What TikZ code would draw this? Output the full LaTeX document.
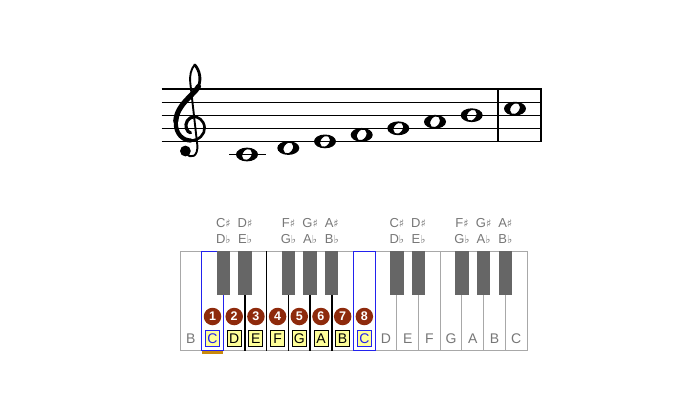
\documentclass[tikz,border=0pt]{standalone}
\usepackage{fontspec}
\setmainfont{Liberation Sans}
\newfontfamily\symfont{DejaVu Sans}
\definecolor{keygray}{HTML}{A8A8A8}
\definecolor{bkgray}{HTML}{666666}
\definecolor{labgray}{HTML}{777777}
\definecolor{circ}{HTML}{8E2A0C}
\definecolor{ylw}{HTML}{FFFF99}
\definecolor{blueC}{HTML}{2222EE}
\definecolor{orng}{HTML}{C98A0E}
\newcommand\mysharp{{\symfont\fontsize{11}{11}\selectfont ♯}}
\newcommand\myflat{{\symfont\fontsize{11}{11}\selectfont ♭}}
\newcommand\wnote[2]{%
  \fill[even odd rule] (#1,#2) ellipse [x radius=11, y radius=6.9]
    {[shift={(#1,#2)}, rotate=-35] (0,0) ellipse [x radius=4.3, y radius=5.9]};}
\begin{document}
\begin{tikzpicture}[x=1pt,y=-1pt,
  wkey/.style={draw=keygray, line width=1pt, fill=white, minimum width=21.6875pt, minimum height=99.5pt, inner sep=0, outer sep=0},
  bkey/.style={fill=bkgray, minimum width=13.3pt, minimum height=44pt, inner sep=0, outer sep=0},
  acc/.style={text=labgray, font=\fontsize{13}{16}\selectfont, align=center, inner sep=0},
  num/.style={circle, fill=circ, text=white, font=\fontsize{12.5}{12.5}\selectfont\bfseries, minimum size=17.5pt, inner sep=0},
  lbox/.style={draw=black, fill=ylw, minimum width=14pt, minimum height=15.5pt, inner sep=0, line width=0.9pt, font=\fontsize{14}{14}\selectfont},
  cbox/.style={lbox, draw=blueC, text=blueC},
  glab/.style={text=labgray, inner sep=0, font=\fontsize{14}{14}\selectfont},
  staffline/.style={line width=1.2pt},
  barline/.style={line width=1.8pt},
  clef/.style={line cap=round, line join=round},
]
\useasboundingbox (0,0) rectangle (700,400);
\fill[white] (0,0) rectangle (700,400);

% ---------- staff ----------
\foreach \k in {0,...,4}
  \draw[staffline] (161.7,{89+13.1*\k}) -- (540.7,{89+13.1*\k});
\draw[barline] (498.3,88.4) -- (498.3,142);
\draw[barline] (540.7,88.4) -- (540.7,142);

% treble clef (drawn as shape)
\draw[clef, line width=1.9pt] (194.7,64.8) .. controls (191,69) and (189.5,75) .. (190.3,83)
   -- (197.3,145) .. controls (198.3,156) and (191,160) .. (186,153);
\draw[clef, line width=2.8pt] (194.7,64.8) .. controls (199.5,70) and (201.5,79) .. (198.5,86);
\draw[clef, line width=5.2pt] (198.5,86.5) .. controls (194,95) and (177,104) .. (175.8,121);
\draw[clef, line width=4.2pt] (175.8,121) .. controls (175,135) and (184,140.5) .. (190.5,140.5);
\draw[clef, line width=2.6pt] (190.5,140.5) .. controls (199,140.5) and (205,134.5) .. (204.6,127.5)
   .. controls (204,120) and (198,116.5) .. (193.5,116.8);
\draw[clef, line width=3.2pt] (193.5,116.8) .. controls (188,117.5) and (185,123) .. (186.2,128)
   .. controls (187,131) and (189,132.5) .. (190.5,132.8);
\fill (185.4,151) circle [radius=5.4];

\draw[line width=1.5pt] (229,154.5) -- (266,154.5);
\wnote{247}{154.5}
\wnote{288.3}{148}
\wnote{325}{141.4}
\wnote{361.7}{134.85}
\wnote{398.3}{128.3}
\wnote{435}{121.75}
\wnote{471.7}{115.2}
\wnote{515}{108.65}

% ---------- keyboard ----------
\foreach \i in {0,...,15}
  \node[wkey] (w\i) at ({180+21.6875*(\i+0.5)},300.75) {};
\foreach \i in {3,...,7}
  \draw[line width=1.4pt] (w\i.north west) -- (w\i.south west);
\draw[blueC, line width=1pt] (w1.north west) rectangle (w1.south east);
\draw[blueC, line width=1pt] (w8.north west) rectangle (w8.south east);
\fill[orng] (w1.south west) rectangle ([yshift=-3pt]w1.south east);
\foreach \i in {2,3,5,6,7,10,11,13,14,15}
  \node[bkey, anchor=north] (b\i) at (w\i.north west) {};

% accidental labels
\node[acc] (a2)  at ({180+21.6875*2},231) {C\mysharp\\D\myflat};
\node[acc] (a3)  at ({180+21.6875*3},231) {D\mysharp\\E\myflat};
\node[acc] (a5)  at ({180+21.6875*5},231) {F\mysharp\\G\myflat};
\node[acc] (a6)  at ({180+21.6875*6},231) {G\mysharp\\A\myflat};
\node[acc] (a7)  at ({180+21.6875*7},231) {A\mysharp\\B\myflat};
\node[acc] (a10) at ({180+21.6875*10},231) {C\mysharp\\D\myflat};
\node[acc] (a11) at ({180+21.6875*11},231) {D\mysharp\\E\myflat};
\node[acc] (a13) at ({180+21.6875*13},231) {F\mysharp\\G\myflat};
\node[acc] (a14) at ({180+21.6875*14},231) {G\mysharp\\A\myflat};
\node[acc] (a15) at ({180+21.6875*15},231) {A\mysharp\\B\myflat};

% numbered circles
\foreach \i in {1,...,8}
  \node[num] (n\i) at ({180+21.6875*(\i+0.5)},316.5) {\i};

% letter boxes
\node[cbox] (l1) at ({180+21.6875*1.5},338.5) {C};
\node[lbox] (l2) at ({180+21.6875*2.5},338.5) {D};
\node[lbox] (l3) at ({180+21.6875*3.5},338.5) {E};
\node[lbox] (l4) at ({180+21.6875*4.5},338.5) {F};
\node[lbox] (l5) at ({180+21.6875*5.5},338.5) {G};
\node[lbox] (l6) at ({180+21.6875*6.5},338.5) {A};
\node[lbox] (l7) at ({180+21.6875*7.5},338.5) {B};
\node[cbox] (l8) at ({180+21.6875*8.5},338.5) {C};

% grey letters
\node[glab] (g0)  at ({180+21.6875*0.5},338.5) {B};
\node[glab] (g9)  at ({180+21.6875*9.5},338.5) {D};
\node[glab] (g10) at ({180+21.6875*10.5},338.5) {E};
\node[glab] (g11) at ({180+21.6875*11.5},338.5) {F};
\node[glab] (g12) at ({180+21.6875*12.5},338.5) {G};
\node[glab] (g13) at ({180+21.6875*13.5},338.5) {A};
\node[glab] (g14) at ({180+21.6875*14.5},338.5) {B};
\node[glab] (g15) at ({180+21.6875*15.5},338.5) {C};
\end{tikzpicture}
\end{document}
